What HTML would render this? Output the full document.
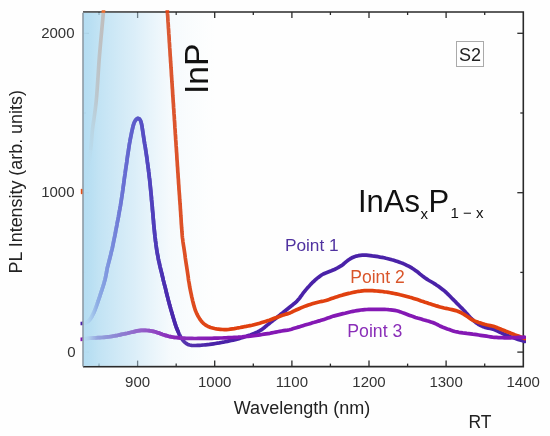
<!DOCTYPE html>
<html><head><meta charset="utf-8"><style>
html,body{margin:0;padding:0;background:#fff;}
body{width:550px;height:436px;overflow:hidden;}
svg{display:block;filter:blur(0.35px);}
text{font-family:"Liberation Sans",sans-serif;}
</style></head><body>
<svg width="550" height="436" viewBox="0 0 550 436">
<defs>
<clipPath id="pc"><rect x="80.5" y="10.3" width="445.5" height="356.3"/></clipPath>
<linearGradient id="ov" x1="83" y1="0" x2="215" y2="0" gradientUnits="userSpaceOnUse">
<stop offset="0" stop-color="#b2dcf2" stop-opacity="0.97"/>
<stop offset="0.06" stop-color="#b0dbf1" stop-opacity="0.88"/>
<stop offset="0.12" stop-color="#b0dbf1" stop-opacity="0.77"/>
<stop offset="0.39" stop-color="#b8def3" stop-opacity="0.5"/>
<stop offset="0.66" stop-color="#c0e2f5" stop-opacity="0.14"/>
<stop offset="1" stop-color="#c8e8f8" stop-opacity="0"/>
</linearGradient>
<linearGradient id="gf" x1="0" y1="12" x2="0" y2="200" gradientUnits="userSpaceOnUse">
<stop offset="0" stop-color="#e8692a" stop-opacity="1"/>
<stop offset="0.45" stop-color="#e8692a" stop-opacity="0.9"/>
<stop offset="0.8" stop-color="#e8692a" stop-opacity="0.15"/>
<stop offset="1" stop-color="#e8692a" stop-opacity="0"/>
</linearGradient>
<linearGradient id="fd" x1="83.8" y1="0" x2="97" y2="0" gradientUnits="userSpaceOnUse">
<stop offset="0" stop-color="#b5ddf2" stop-opacity="0.92"/>
<stop offset="0.3" stop-color="#b7def2" stop-opacity="0.72"/>
<stop offset="0.62" stop-color="#bbe0f3" stop-opacity="0.35"/>
<stop offset="1" stop-color="#c1e3f4" stop-opacity="0"/>
</linearGradient>
<linearGradient id="bg1" x1="84" y1="0" x2="180" y2="0" gradientUnits="userSpaceOnUse">
<stop offset="0" stop-color="rgb(165,200,236)"/>
<stop offset="0.115" stop-color="rgb(145,178,230)"/>
<stop offset="0.27" stop-color="rgb(122,144,222)"/>
<stop offset="0.42" stop-color="rgb(103,110,211)"/>
<stop offset="0.56" stop-color="rgb(88,86,200)"/>
<stop offset="0.69" stop-color="rgb(80,66,190)"/>
<stop offset="0.84" stop-color="rgb(74,46,176)"/>
<stop offset="1" stop-color="#4a22a8"/>
</linearGradient>
<linearGradient id="pg1" x1="84" y1="0" x2="182" y2="0" gradientUnits="userSpaceOnUse">
<stop offset="0" stop-color="rgb(160,185,230)"/>
<stop offset="0.16" stop-color="rgb(146,160,220)"/>
<stop offset="0.37" stop-color="rgb(140,128,210)"/>
<stop offset="0.57" stop-color="rgb(148,98,202)"/>
<stop offset="0.78" stop-color="rgb(142,60,192)"/>
<stop offset="1" stop-color="#8418b4"/>
</linearGradient>
<clipPath id="lc"><rect x="84" y="12.8" width="96" height="353"/></clipPath>
</defs>
<rect width="550" height="436" fill="#fefefe"/>
<g stroke="#555" stroke-width="1.1"><line x1="83.0" y1="352.1" x2="89.0" y2="352.1"/><line x1="83.0" y1="272.4" x2="86.0" y2="272.4"/><line x1="83.0" y1="192.7" x2="89.0" y2="192.7"/><line x1="83.0" y1="113.0" x2="86.0" y2="113.0"/><line x1="83.0" y1="33.3" x2="89.0" y2="33.3"/></g>
<g stroke="#2a2a2a" stroke-width="1.3"><line x1="99.0" y1="366.6" x2="99.0" y2="363.6"/><line x1="99.0" y1="12.0" x2="99.0" y2="15.0"/><line x1="137.6" y1="366.6" x2="137.6" y2="360.6"/><line x1="137.6" y1="12.0" x2="137.6" y2="18.0"/><line x1="176.2" y1="366.6" x2="176.2" y2="363.6"/><line x1="176.2" y1="12.0" x2="176.2" y2="15.0"/><line x1="214.7" y1="366.6" x2="214.7" y2="360.6"/><line x1="214.7" y1="12.0" x2="214.7" y2="18.0"/><line x1="253.3" y1="366.6" x2="253.3" y2="363.6"/><line x1="253.3" y1="12.0" x2="253.3" y2="15.0"/><line x1="291.9" y1="366.6" x2="291.9" y2="360.6"/><line x1="291.9" y1="12.0" x2="291.9" y2="18.0"/><line x1="330.4" y1="366.6" x2="330.4" y2="363.6"/><line x1="330.4" y1="12.0" x2="330.4" y2="15.0"/><line x1="369.0" y1="366.6" x2="369.0" y2="360.6"/><line x1="369.0" y1="12.0" x2="369.0" y2="18.0"/><line x1="407.6" y1="366.6" x2="407.6" y2="363.6"/><line x1="407.6" y1="12.0" x2="407.6" y2="15.0"/><line x1="446.1" y1="366.6" x2="446.1" y2="360.6"/><line x1="446.1" y1="12.0" x2="446.1" y2="18.0"/><line x1="484.7" y1="366.6" x2="484.7" y2="363.6"/><line x1="484.7" y1="12.0" x2="484.7" y2="15.0"/><line x1="523.3" y1="352.1" x2="517.3" y2="352.1"/><line x1="523.3" y1="272.4" x2="520.3" y2="272.4"/><line x1="523.3" y1="192.7" x2="517.3" y2="192.7"/><line x1="523.3" y1="113.0" x2="520.3" y2="113.0"/><line x1="523.3" y1="33.3" x2="517.3" y2="33.3"/></g>
<path d="M83,366.6 H523.3 V12 H83" fill="none" stroke="#2a2a2a" stroke-width="1.6"/>
<g clip-path="url(#pc)" fill="none" stroke-width="3.7" stroke-linejoin="round" stroke-linecap="round">
<path d="M104.0,0.0 C103.9,2.0 104.2,2.8 103.4,12.0 C102.7,21.2 100.7,40.3 99.5,55.0 C98.3,69.7 97.5,87.5 96.3,100.0 C95.1,112.5 93.4,121.7 92.4,130.0 C91.5,138.3 91.6,142.5 90.6,150.0 C89.6,157.5 88.1,167.5 86.5,175.0 C84.9,182.5 81.9,191.7 81.0,195.0" stroke="url(#gf)"/>
<path d="M80.7,323.5 L82.1,323.4 L84.0,323.2 L85.9,322.7 L87.6,321.7 L89.1,320.5 L90.3,318.9 L91.4,317.2 L92.4,315.5 L93.3,313.7 L94.1,311.9 L94.9,310.1 L95.6,308.2 L96.3,306.3 L97.0,304.4 L97.6,302.6 L98.3,300.7 L98.9,298.8 L99.6,296.9 L100.2,295.0 L100.8,293.1 L101.5,291.2 L102.1,289.3 L102.7,287.4 L103.3,285.5 L103.9,283.6 L104.4,281.6 L105.0,279.7 L105.4,277.8 L105.8,275.8 L106.2,273.8 L106.6,271.9 L106.9,269.9 L107.3,267.9 L107.8,266.0 L108.3,264.1 L108.8,262.1 L109.3,260.2 L109.8,258.2 L110.3,256.3 L110.8,254.4 L111.2,252.4 L111.7,250.5 L112.2,248.5 L112.6,246.6 L113.0,244.6 L113.4,242.7 L113.8,240.7 L114.2,238.7 L114.6,236.8 L115.0,234.8 L115.4,232.9 L115.7,230.9 L116.1,228.9 L116.5,227.0 L116.9,225.0 L117.2,223.0 L117.6,221.1 L118.0,219.1 L118.4,217.1 L118.7,215.2 L119.1,213.2 L119.4,211.2 L119.8,209.3 L120.1,207.3 L120.5,205.3 L120.8,203.4 L121.1,201.4 L121.4,199.4 L121.7,197.4 L122.0,195.5 L122.3,193.5 L122.6,191.5 L122.9,189.5 L123.1,187.5 L123.4,185.6 L123.7,183.6 L124.0,181.6 L124.2,179.6 L124.5,177.6 L124.8,175.6 L125.1,173.7 L125.3,171.7 L125.6,169.7 L125.9,167.7 L126.2,165.7 L126.5,163.8 L126.8,161.8 L127.0,159.8 L127.3,157.8 L127.6,155.8 L127.9,153.9 L128.2,151.9 L128.5,149.9 L128.8,147.9 L129.1,146.0 L129.4,144.0 L129.8,142.0 L130.1,140.0 L130.5,138.1 L130.9,136.1 L131.3,134.2 L131.7,132.2 L132.1,130.2 L132.6,128.3 L133.0,126.4 L133.6,124.4 L134.2,122.5 L135.1,120.8 L136.2,119.3 L137.7,118.4 L139.2,118.8 L140.3,120.1 L141.0,121.9 L141.5,123.9 L141.9,125.8 L142.2,127.8 L142.5,129.8 L142.8,131.8 L143.1,133.7 L143.4,135.7 L143.7,137.7 L144.0,139.7 L144.3,141.6 L144.6,143.6 L145.0,145.6 L145.3,147.6 L145.6,149.5 L145.9,151.5 L146.2,153.5 L146.5,155.5 L146.8,157.4 L147.1,159.4 L147.3,161.4 L147.6,163.4 L147.9,165.4 L148.1,167.4 L148.4,169.3 L148.6,171.3 L148.9,173.3 L149.1,175.3 L149.3,177.3 L149.6,179.3 L149.8,181.3 L150.0,183.2 L150.2,185.2 L150.4,187.2 L150.6,189.2 L150.8,191.2 L151.0,193.2 L151.2,195.2 L151.4,197.2 L151.5,199.2 L151.7,201.2 L151.9,203.2 L152.1,205.1 L152.3,207.1 L152.4,209.1 L152.6,211.1 L152.8,213.1 L153.0,215.1 L153.1,217.1 L153.3,219.1 L153.5,221.1 L153.6,223.1 L153.8,225.1 L154.0,227.1 L154.2,229.1 L154.4,231.0 L154.6,233.0 L154.8,235.0 L155.0,237.0 L155.3,239.0 L155.5,241.0 L155.8,243.0 L156.0,244.9 L156.3,246.9 L156.6,248.9 L156.9,250.9 L157.2,252.9 L157.6,254.8 L158.0,256.8 L158.3,258.8 L158.7,260.7 L159.2,262.7 L159.6,264.6 L160.0,266.6 L160.5,268.5 L161.0,270.5 L161.5,272.4 L161.9,274.3 L162.4,276.3 L162.9,278.2 L163.3,280.2 L163.8,282.1 L164.3,284.1 L164.8,286.0 L165.3,287.9 L165.8,289.9 L166.2,291.8 L166.7,293.8 L167.2,295.7 L167.7,297.6 L168.2,299.6 L168.7,301.5 L169.2,303.4 L169.7,305.4 L170.3,307.3 L170.8,309.2 L171.4,311.1 L171.9,313.1 L172.5,315.0 L173.0,316.9 L173.6,318.8 L174.2,320.7 L174.8,322.7 L175.4,324.6 L176.0,326.4 L176.7,328.3 L177.5,330.2 L178.3,332.0 L179.1,333.8 L180.0,335.6 L180.9,337.4 L182.0,339.1 L183.2,340.7 L184.5,342.1 L186.1,343.4 L187.8,344.4 L189.6,345.0 L191.6,345.3 L193.6,345.5 L195.6,345.5 L197.6,345.4 L199.6,345.3 L201.6,345.2 L203.5,345.0 L205.5,344.8 L207.5,344.6 L209.5,344.4 L211.5,344.1 L213.5,343.8 L215.5,343.5 L217.4,343.2 L219.4,342.9 L221.4,342.5 L223.3,342.2 L225.3,341.8 L227.3,341.4 L229.2,340.9 L231.2,340.5 L233.1,340.1 L235.1,339.7 L237.0,339.2 L238.9,338.7 L240.8,338.1 L242.8,337.5 L244.7,336.8 L246.5,336.2 L248.4,335.5 L250.3,334.9 L252.2,334.2 L254.1,333.5 L255.9,332.7 L257.7,331.9 L259.5,330.9 L261.2,329.9 L262.8,328.7 L264.4,327.5 L265.9,326.2 L267.5,324.9 L269.0,323.7 L270.6,322.4 L272.1,321.2 L273.7,319.9 L275.3,318.7 L276.8,317.5 L278.4,316.2 L280.0,315.0 L281.5,313.7 L283.1,312.5 L284.7,311.2 L286.2,310.0 L287.8,308.7 L289.3,307.5 L290.9,306.2 L292.5,305.0 L294.0,303.7 L295.6,302.5 L297.0,301.1 L298.4,299.6 L299.6,298.1 L300.8,296.4 L302.0,294.8 L303.1,293.2 L304.4,291.6 L305.6,290.1 L306.9,288.6 L308.3,287.1 L309.6,285.6 L310.9,284.1 L312.3,282.7 L313.8,281.3 L315.3,279.9 L316.8,278.6 L318.3,277.4 L319.9,276.2 L321.6,275.0 L323.3,274.0 L325.1,273.2 L327.0,272.5 L328.8,271.8 L330.7,271.1 L332.5,270.3 L334.4,269.5 L336.2,268.6 L338.0,267.7 L339.7,266.7 L341.4,265.7 L343.0,264.5 L344.5,263.2 L346.0,261.9 L347.6,260.6 L349.2,259.5 L350.9,258.4 L352.6,257.5 L354.5,256.7 L356.4,256.1 L358.3,255.7 L360.3,255.4 L362.3,255.2 L364.3,255.1 L366.3,255.2 L368.3,255.4 L370.3,255.6 L372.3,255.9 L374.2,256.1 L376.2,256.4 L378.2,256.7 L380.2,257.1 L382.1,257.4 L384.1,257.8 L386.0,258.3 L388.0,258.7 L389.9,259.2 L391.9,259.8 L393.8,260.3 L395.7,260.9 L397.6,261.5 L399.5,262.2 L401.3,262.9 L403.2,263.6 L405.0,264.4 L406.8,265.3 L408.6,266.2 L410.4,267.2 L412.1,268.2 L413.8,269.3 L415.4,270.4 L417.0,271.6 L418.6,272.8 L420.1,274.1 L421.7,275.4 L423.2,276.6 L424.8,277.8 L426.5,278.9 L428.2,280.0 L429.9,281.0 L431.7,282.0 L433.4,283.0 L435.1,284.1 L436.7,285.2 L438.4,286.3 L440.0,287.5 L441.6,288.7 L443.2,289.9 L444.7,291.2 L446.2,292.5 L447.6,293.9 L449.0,295.3 L450.5,296.8 L451.9,298.2 L453.3,299.6 L454.7,301.0 L456.1,302.4 L457.5,303.9 L458.9,305.3 L460.3,306.7 L461.7,308.1 L463.1,309.6 L464.5,311.0 L465.8,312.5 L467.2,314.0 L468.5,315.5 L469.8,316.9 L471.2,318.4 L472.7,319.8 L474.1,321.1 L475.7,322.4 L477.3,323.6 L478.9,324.7 L480.7,325.6 L482.5,326.4 L484.4,327.1 L486.3,327.6 L488.3,328.1 L490.2,328.5 L492.2,328.9 L494.1,329.5 L495.9,330.3 L497.7,331.2 L499.5,332.1 L501.3,332.9 L503.1,333.7 L505.0,334.5 L506.9,335.2 L508.7,335.9 L510.6,336.7 L512.4,337.4 L514.3,338.1 L516.2,338.8 L518.1,339.4 L520.0,340.0 L521.9,340.6 L523.6,341.1 L524.6,341.4 L524.6,341.4" stroke="#4a22a8"/>
<path d="M166.6,0.7 L166.7,2.1 L166.9,4.0 L167.0,6.0 L167.1,7.9 L167.3,9.9 L167.4,11.9 L167.5,13.9 L167.7,15.9 L167.8,17.9 L167.9,19.9 L168.0,21.9 L168.2,23.9 L168.3,25.9 L168.4,27.9 L168.6,29.9 L168.7,31.9 L168.8,33.9 L169.0,35.9 L169.1,37.9 L169.2,39.9 L169.3,41.9 L169.5,43.9 L169.6,45.9 L169.7,47.9 L169.9,49.9 L170.0,51.9 L170.1,53.9 L170.2,55.8 L170.4,57.8 L170.5,59.8 L170.6,61.8 L170.8,63.8 L170.9,65.8 L171.0,67.8 L171.2,69.8 L171.3,71.8 L171.4,73.8 L171.5,75.8 L171.7,77.8 L171.8,79.8 L171.9,81.8 L172.1,83.8 L172.2,85.8 L172.3,87.8 L172.5,89.8 L172.6,91.8 L172.7,93.8 L172.8,95.8 L173.0,97.8 L173.1,99.8 L173.2,101.8 L173.4,103.7 L173.5,105.7 L173.6,107.7 L173.8,109.7 L173.9,111.7 L174.0,113.7 L174.2,115.7 L174.3,117.7 L174.4,119.7 L174.6,121.7 L174.7,123.7 L174.8,125.7 L174.9,127.7 L175.1,129.7 L175.2,131.7 L175.3,133.7 L175.5,135.7 L175.6,137.7 L175.7,139.7 L175.9,141.7 L176.0,143.7 L176.1,145.7 L176.3,147.7 L176.4,149.6 L176.5,151.6 L176.7,153.6 L176.8,155.6 L176.9,157.6 L177.0,159.6 L177.2,161.6 L177.3,163.6 L177.4,165.6 L177.6,167.6 L177.7,169.6 L177.8,171.6 L178.0,173.6 L178.1,175.6 L178.2,177.6 L178.4,179.6 L178.5,181.6 L178.6,183.6 L178.8,185.6 L178.9,187.6 L179.0,189.6 L179.2,191.6 L179.3,193.5 L179.5,195.5 L179.6,197.5 L179.7,199.5 L179.9,201.5 L180.0,203.5 L180.2,205.5 L180.3,207.5 L180.4,209.5 L180.6,211.5 L180.7,213.5 L180.8,215.5 L181.0,217.5 L181.1,219.5 L181.2,221.5 L181.3,223.5 L181.5,225.5 L181.6,227.5 L181.8,229.5 L181.9,231.5 L182.1,233.5 L182.2,235.4 L182.4,237.4 L182.7,239.4 L182.9,241.4 L183.2,243.4 L183.5,245.4 L183.8,247.3 L184.1,249.3 L184.4,251.3 L184.7,253.3 L185.0,255.3 L185.2,257.2 L185.5,259.2 L185.8,261.2 L186.1,263.2 L186.4,265.1 L186.7,267.1 L187.0,269.1 L187.3,271.1 L187.6,273.1 L187.9,275.0 L188.2,277.0 L188.4,279.0 L188.7,281.0 L189.1,283.0 L189.4,284.9 L189.7,286.9 L190.1,288.9 L190.5,290.8 L190.9,292.8 L191.3,294.7 L191.7,296.7 L192.2,298.6 L192.6,300.6 L193.1,302.5 L193.6,304.5 L194.1,306.4 L194.7,308.3 L195.3,310.2 L196.1,312.1 L196.9,313.9 L197.8,315.7 L198.8,317.4 L199.8,319.1 L201.0,320.7 L202.3,322.2 L203.7,323.6 L205.3,324.9 L207.0,325.9 L208.8,326.8 L210.6,327.5 L212.5,328.0 L214.5,328.5 L216.4,328.9 L218.4,329.1 L220.4,329.3 L222.4,329.5 L224.4,329.6 L226.4,329.6 L228.4,329.5 L230.4,329.2 L232.4,328.9 L234.3,328.6 L236.3,328.2 L238.3,327.8 L240.2,327.5 L242.2,327.1 L244.2,326.7 L246.1,326.4 L248.1,326.0 L250.0,325.6 L252.0,325.2 L254.0,324.7 L255.9,324.2 L257.8,323.7 L259.7,323.2 L261.7,322.6 L263.6,322.0 L265.5,321.4 L267.4,320.8 L269.3,320.2 L271.2,319.5 L273.0,318.8 L274.9,318.1 L276.8,317.4 L278.7,316.7 L280.5,316.0 L282.4,315.3 L284.3,314.7 L286.2,314.1 L288.1,313.6 L290.0,312.9 L291.8,312.1 L293.6,311.2 L295.4,310.3 L297.3,309.5 L299.1,308.7 L300.9,307.9 L302.8,307.1 L304.6,306.4 L306.5,305.7 L308.4,305.0 L310.3,304.4 L312.2,303.8 L314.1,303.2 L316.0,302.7 L318.0,302.2 L319.9,301.8 L321.9,301.4 L323.8,301.0 L325.8,300.5 L327.7,299.9 L329.6,299.3 L331.5,298.6 L333.4,297.9 L335.3,297.3 L337.2,296.7 L339.1,296.1 L341.0,295.5 L342.9,294.9 L344.8,294.4 L346.8,293.9 L348.7,293.4 L350.6,293.0 L352.6,292.5 L354.5,292.1 L356.5,291.7 L358.5,291.3 L360.5,291.1 L362.4,290.8 L364.4,290.7 L366.4,290.6 L368.4,290.5 L370.4,290.6 L372.4,290.7 L374.4,290.8 L376.4,291.0 L378.4,291.1 L380.4,291.3 L382.4,291.5 L384.4,291.8 L386.4,292.0 L388.3,292.3 L390.3,292.7 L392.3,293.1 L394.2,293.5 L396.2,293.9 L398.1,294.3 L400.1,294.8 L402.0,295.2 L404.0,295.7 L405.9,296.2 L407.8,296.7 L409.8,297.3 L411.7,297.8 L413.6,298.4 L415.5,299.0 L417.4,299.6 L419.3,300.2 L421.2,300.9 L423.1,301.5 L425.0,302.2 L426.9,302.8 L428.8,303.5 L430.7,304.1 L432.6,304.7 L434.5,305.3 L436.4,305.9 L438.3,306.4 L440.2,307.0 L442.2,307.5 L444.1,308.0 L446.1,308.4 L448.0,308.8 L450.0,309.2 L451.9,309.6 L453.9,310.1 L455.8,310.6 L457.7,311.2 L459.6,312.0 L461.4,312.9 L463.1,313.8 L464.8,314.9 L466.5,316.0 L468.1,317.1 L469.7,318.3 L471.4,319.4 L473.2,320.3 L475.0,321.1 L476.8,321.8 L478.7,322.5 L480.6,323.1 L482.5,323.7 L484.5,324.3 L486.4,324.8 L488.4,325.2 L490.3,325.6 L492.3,326.0 L494.2,326.6 L496.1,327.2 L497.9,328.0 L499.8,328.7 L501.6,329.5 L503.5,330.2 L505.3,331.0 L507.2,331.7 L509.1,332.4 L510.9,333.2 L512.8,333.9 L514.6,334.7 L516.5,335.4 L518.4,336.1 L520.2,336.8 L522.1,337.5 L523.7,338.1 L524.7,338.5 L524.7,338.5" stroke="#e0400f"/>
<path d="M80.8,339.3 L82.1,339.2 L84.0,338.9 L85.9,338.6 L87.9,338.4 L89.9,338.2 L91.9,338.1 L93.9,337.9 L95.9,337.8 L97.9,337.7 L99.9,337.6 L101.9,337.5 L103.9,337.3 L105.9,337.1 L107.9,336.9 L109.8,336.7 L111.8,336.4 L113.8,336.0 L115.8,335.6 L117.7,335.3 L119.7,334.9 L121.6,334.4 L123.6,334.0 L125.5,333.6 L127.5,333.2 L129.4,332.7 L131.4,332.3 L133.3,331.9 L135.3,331.4 L137.2,330.9 L139.2,330.6 L141.2,330.3 L143.2,330.3 L145.2,330.3 L147.2,330.5 L149.1,330.7 L151.1,331.0 L153.1,331.4 L155.0,331.8 L156.9,332.4 L158.8,333.1 L160.7,333.8 L162.6,334.5 L164.5,335.1 L166.4,335.6 L168.3,336.2 L170.3,336.6 L172.2,337.0 L174.2,337.3 L176.2,337.5 L178.2,337.7 L180.2,337.9 L182.2,338.1 L184.2,338.2 L186.1,338.3 L188.1,338.4 L190.1,338.4 L192.1,338.4 L194.1,338.5 L196.1,338.5 L198.1,338.4 L200.1,338.4 L202.1,338.4 L204.1,338.4 L206.1,338.4 L208.1,338.3 L210.1,338.3 L212.1,338.3 L214.1,338.2 L216.1,338.2 L218.1,338.1 L220.1,338.0 L222.1,338.0 L224.1,337.9 L226.1,337.8 L228.1,337.7 L230.1,337.6 L232.1,337.5 L234.1,337.4 L236.1,337.3 L238.1,337.2 L240.1,337.0 L242.1,336.9 L244.1,336.7 L246.1,336.5 L248.1,336.3 L250.1,336.1 L252.1,335.8 L254.0,335.6 L256.0,335.4 L258.0,335.1 L260.0,334.8 L262.0,334.5 L263.9,334.2 L265.9,333.9 L267.9,333.6 L269.9,333.3 L271.8,332.9 L273.8,332.5 L275.7,332.1 L277.7,331.7 L279.7,331.3 L281.6,331.0 L283.6,330.7 L285.6,330.4 L287.6,330.1 L289.5,329.7 L291.5,329.2 L293.4,328.6 L295.3,328.0 L297.2,327.4 L299.1,326.9 L301.0,326.3 L302.9,325.7 L304.9,325.1 L306.8,324.5 L308.7,324.0 L310.6,323.4 L312.5,322.8 L314.4,322.3 L316.4,321.7 L318.3,321.1 L320.2,320.6 L322.1,320.0 L324.0,319.4 L325.9,318.8 L327.8,318.1 L329.7,317.4 L331.5,316.7 L333.5,316.1 L335.4,315.6 L337.3,315.1 L339.3,314.6 L341.2,314.1 L343.1,313.6 L345.1,313.2 L347.0,312.7 L349.0,312.2 L350.9,311.8 L352.9,311.4 L354.8,311.0 L356.8,310.6 L358.8,310.3 L360.8,310.0 L362.8,309.8 L364.7,309.6 L366.7,309.5 L368.7,309.4 L370.7,309.3 L372.7,309.3 L374.7,309.3 L376.7,309.3 L378.7,309.3 L380.7,309.3 L382.7,309.4 L384.7,309.4 L386.7,309.5 L388.7,309.7 L390.7,309.8 L392.7,310.1 L394.7,310.4 L396.6,310.8 L398.6,311.3 L400.5,311.9 L402.3,312.6 L404.2,313.3 L406.1,314.0 L407.9,314.7 L409.8,315.4 L411.7,316.1 L413.6,316.7 L415.5,317.4 L417.4,318.0 L419.3,318.5 L421.2,319.1 L423.2,319.7 L425.1,320.2 L427.0,320.8 L428.9,321.3 L430.8,321.9 L432.7,322.5 L434.6,323.3 L436.4,324.1 L438.2,325.0 L439.9,326.0 L441.7,326.8 L443.6,327.6 L445.5,328.3 L447.3,329.0 L449.2,329.6 L451.1,330.3 L453.0,330.9 L454.9,331.5 L456.9,331.9 L458.8,332.3 L460.8,332.6 L462.8,332.9 L464.8,333.1 L466.8,333.4 L468.7,333.6 L470.7,333.9 L472.7,334.2 L474.7,334.4 L476.7,334.7 L478.7,335.0 L480.6,335.3 L482.6,335.6 L484.6,335.9 L486.6,336.2 L488.5,336.5 L490.5,336.8 L492.5,337.1 L494.5,337.3 L496.5,337.4 L498.5,337.6 L500.5,337.7 L502.5,337.7 L504.5,337.8 L506.5,337.9 L508.5,337.9 L510.5,337.8 L512.5,337.7 L514.4,337.6 L516.4,337.5 L518.4,337.4 L520.4,337.3 L522.3,337.3 L523.9,337.2 L524.4,337.2" stroke="#8418b4"/>
</g>
<rect x="83" y="12.8" width="133" height="353.0" fill="url(#ov)"/>
<g clip-path="url(#lc)" fill="none" stroke-width="3.7" stroke-linejoin="round" stroke-linecap="round">
<path d="M80.7,323.5 L82.1,323.4 L84.0,323.2 L85.9,322.7 L87.6,321.7 L89.1,320.5 L90.3,318.9 L91.4,317.2 L92.4,315.5 L93.3,313.7 L94.1,311.9 L94.9,310.1 L95.6,308.2 L96.3,306.3 L97.0,304.4 L97.6,302.6 L98.3,300.7 L98.9,298.8 L99.6,296.9 L100.2,295.0 L100.8,293.1 L101.5,291.2 L102.1,289.3 L102.7,287.4 L103.3,285.5 L103.9,283.6 L104.4,281.6 L105.0,279.7 L105.4,277.8 L105.8,275.8 L106.2,273.8 L106.6,271.9 L106.9,269.9 L107.3,267.9 L107.8,266.0 L108.3,264.1 L108.8,262.1 L109.3,260.2 L109.8,258.2 L110.3,256.3 L110.8,254.4 L111.2,252.4 L111.7,250.5 L112.2,248.5 L112.6,246.6 L113.0,244.6 L113.4,242.7 L113.8,240.7 L114.2,238.7 L114.6,236.8 L115.0,234.8 L115.4,232.9 L115.7,230.9 L116.1,228.9 L116.5,227.0 L116.9,225.0 L117.2,223.0 L117.6,221.1 L118.0,219.1 L118.4,217.1 L118.7,215.2 L119.1,213.2 L119.4,211.2 L119.8,209.3 L120.1,207.3 L120.5,205.3 L120.8,203.4 L121.1,201.4 L121.4,199.4 L121.7,197.4 L122.0,195.5 L122.3,193.5 L122.6,191.5 L122.9,189.5 L123.1,187.5 L123.4,185.6 L123.7,183.6 L124.0,181.6 L124.2,179.6 L124.5,177.6 L124.8,175.6 L125.1,173.7 L125.3,171.7 L125.6,169.7 L125.9,167.7 L126.2,165.7 L126.5,163.8 L126.8,161.8 L127.0,159.8 L127.3,157.8 L127.6,155.8 L127.9,153.9 L128.2,151.9 L128.5,149.9 L128.8,147.9 L129.1,146.0 L129.4,144.0 L129.8,142.0 L130.1,140.0 L130.5,138.1 L130.9,136.1 L131.3,134.2 L131.7,132.2 L132.1,130.2 L132.6,128.3 L133.0,126.4 L133.6,124.4 L134.2,122.5 L135.1,120.8 L136.2,119.3 L137.7,118.4 L139.2,118.8 L140.3,120.1 L141.0,121.9 L141.5,123.9 L141.9,125.8 L142.2,127.8 L142.5,129.8 L142.8,131.8 L143.1,133.7 L143.4,135.7 L143.7,137.7 L144.0,139.7 L144.3,141.6 L144.6,143.6 L145.0,145.6 L145.3,147.6 L145.6,149.5 L145.9,151.5 L146.2,153.5 L146.5,155.5 L146.8,157.4 L147.1,159.4 L147.3,161.4 L147.6,163.4 L147.9,165.4 L148.1,167.4 L148.4,169.3 L148.6,171.3 L148.9,173.3 L149.1,175.3 L149.3,177.3 L149.6,179.3 L149.8,181.3 L150.0,183.2 L150.2,185.2 L150.4,187.2 L150.6,189.2 L150.8,191.2 L151.0,193.2 L151.2,195.2 L151.4,197.2 L151.5,199.2 L151.7,201.2 L151.9,203.2 L152.1,205.1 L152.3,207.1 L152.4,209.1 L152.6,211.1 L152.8,213.1 L153.0,215.1 L153.1,217.1 L153.3,219.1 L153.5,221.1 L153.6,223.1 L153.8,225.1 L154.0,227.1 L154.2,229.1 L154.4,231.0 L154.6,233.0 L154.8,235.0 L155.0,237.0 L155.3,239.0 L155.5,241.0 L155.8,243.0 L156.0,244.9 L156.3,246.9 L156.6,248.9 L156.9,250.9 L157.2,252.9 L157.6,254.8 L158.0,256.8 L158.3,258.8 L158.7,260.7 L159.2,262.7 L159.6,264.6 L160.0,266.6 L160.5,268.5 L161.0,270.5 L161.5,272.4 L161.9,274.3 L162.4,276.3 L162.9,278.2 L163.3,280.2 L163.8,282.1 L164.3,284.1 L164.8,286.0 L165.3,287.9 L165.8,289.9 L166.2,291.8 L166.7,293.8 L167.2,295.7 L167.7,297.6 L168.2,299.6 L168.7,301.5 L169.2,303.4 L169.7,305.4 L170.3,307.3 L170.8,309.2 L171.4,311.1 L171.9,313.1 L172.5,315.0 L173.0,316.9 L173.6,318.8 L174.2,320.7 L174.8,322.7 L175.4,324.6 L176.0,326.4 L176.7,328.3 L177.5,330.2 L178.3,332.0 L179.1,333.8 L180.0,335.6 L180.9,337.4 L182.0,339.1 L183.2,340.7 L184.5,342.1 L186.1,343.4 L187.8,344.4 L189.6,345.0 L191.6,345.3 L193.6,345.5 L195.6,345.5 L197.6,345.4 L199.6,345.3 L201.6,345.2 L203.5,345.0 L205.5,344.8 L207.5,344.6 L209.5,344.4 L211.5,344.1 L213.5,343.8 L215.5,343.5 L217.4,343.2 L219.4,342.9 L221.4,342.5 L223.3,342.2 L225.3,341.8 L227.3,341.4 L229.2,340.9 L231.2,340.5 L233.1,340.1 L235.1,339.7 L237.0,339.2 L238.9,338.7 L240.8,338.1 L242.8,337.5 L244.7,336.8 L246.5,336.2 L248.4,335.5 L250.3,334.9 L252.2,334.2 L254.1,333.5 L255.9,332.7 L257.7,331.9 L259.5,330.9 L261.2,329.9 L262.8,328.7 L264.4,327.5 L265.9,326.2 L267.5,324.9 L269.0,323.7 L270.6,322.4 L272.1,321.2 L273.7,319.9 L275.3,318.7 L276.8,317.5 L278.4,316.2 L280.0,315.0 L281.5,313.7 L283.1,312.5 L284.7,311.2 L286.2,310.0 L287.8,308.7 L289.3,307.5 L290.9,306.2 L292.5,305.0 L294.0,303.7 L295.6,302.5 L297.0,301.1 L298.4,299.6 L299.6,298.1 L300.8,296.4 L302.0,294.8 L303.1,293.2 L304.4,291.6 L305.6,290.1 L306.9,288.6 L308.3,287.1 L309.6,285.6 L310.9,284.1 L312.3,282.7 L313.8,281.3 L315.3,279.9 L316.8,278.6 L318.3,277.4 L319.9,276.2 L321.6,275.0 L323.3,274.0 L325.1,273.2 L327.0,272.5 L328.8,271.8 L330.7,271.1 L332.5,270.3 L334.4,269.5 L336.2,268.6 L338.0,267.7 L339.7,266.7 L341.4,265.7 L343.0,264.5 L344.5,263.2 L346.0,261.9 L347.6,260.6 L349.2,259.5 L350.9,258.4 L352.6,257.5 L354.5,256.7 L356.4,256.1 L358.3,255.7 L360.3,255.4 L362.3,255.2 L364.3,255.1 L366.3,255.2 L368.3,255.4 L370.3,255.6 L372.3,255.9 L374.2,256.1 L376.2,256.4 L378.2,256.7 L380.2,257.1 L382.1,257.4 L384.1,257.8 L386.0,258.3 L388.0,258.7 L389.9,259.2 L391.9,259.8 L393.8,260.3 L395.7,260.9 L397.6,261.5 L399.5,262.2 L401.3,262.9 L403.2,263.6 L405.0,264.4 L406.8,265.3 L408.6,266.2 L410.4,267.2 L412.1,268.2 L413.8,269.3 L415.4,270.4 L417.0,271.6 L418.6,272.8 L420.1,274.1 L421.7,275.4 L423.2,276.6 L424.8,277.8 L426.5,278.9 L428.2,280.0 L429.9,281.0 L431.7,282.0 L433.4,283.0 L435.1,284.1 L436.7,285.2 L438.4,286.3 L440.0,287.5 L441.6,288.7 L443.2,289.9 L444.7,291.2 L446.2,292.5 L447.6,293.9 L449.0,295.3 L450.5,296.8 L451.9,298.2 L453.3,299.6 L454.7,301.0 L456.1,302.4 L457.5,303.9 L458.9,305.3 L460.3,306.7 L461.7,308.1 L463.1,309.6 L464.5,311.0 L465.8,312.5 L467.2,314.0 L468.5,315.5 L469.8,316.9 L471.2,318.4 L472.7,319.8 L474.1,321.1 L475.7,322.4 L477.3,323.6 L478.9,324.7 L480.7,325.6 L482.5,326.4 L484.4,327.1 L486.3,327.6 L488.3,328.1 L490.2,328.5 L492.2,328.9 L494.1,329.5 L495.9,330.3 L497.7,331.2 L499.5,332.1 L501.3,332.9 L503.1,333.7 L505.0,334.5 L506.9,335.2 L508.7,335.9 L510.6,336.7 L512.4,337.4 L514.3,338.1 L516.2,338.8 L518.1,339.4 L520.0,340.0 L521.9,340.6 L523.6,341.1 L524.6,341.4 L524.6,341.4" stroke="url(#bg1)"/>
<path d="M80.8,339.3 L82.1,339.2 L84.0,338.9 L85.9,338.6 L87.9,338.4 L89.9,338.2 L91.9,338.1 L93.9,337.9 L95.9,337.8 L97.9,337.7 L99.9,337.6 L101.9,337.5 L103.9,337.3 L105.9,337.1 L107.9,336.9 L109.8,336.7 L111.8,336.4 L113.8,336.0 L115.8,335.6 L117.7,335.3 L119.7,334.9 L121.6,334.4 L123.6,334.0 L125.5,333.6 L127.5,333.2 L129.4,332.7 L131.4,332.3 L133.3,331.9 L135.3,331.4 L137.2,330.9 L139.2,330.6 L141.2,330.3 L143.2,330.3 L145.2,330.3 L147.2,330.5 L149.1,330.7 L151.1,331.0 L153.1,331.4 L155.0,331.8 L156.9,332.4 L158.8,333.1 L160.7,333.8 L162.6,334.5 L164.5,335.1 L166.4,335.6 L168.3,336.2 L170.3,336.6 L172.2,337.0 L174.2,337.3 L176.2,337.5 L178.2,337.7 L180.2,337.9 L182.2,338.1 L184.2,338.2 L186.1,338.3 L188.1,338.4 L190.1,338.4 L192.1,338.4 L194.1,338.5 L196.1,338.5 L198.1,338.4 L200.1,338.4 L202.1,338.4 L204.1,338.4 L206.1,338.4 L208.1,338.3 L210.1,338.3 L212.1,338.3 L214.1,338.2 L216.1,338.2 L218.1,338.1 L220.1,338.0 L222.1,338.0 L224.1,337.9 L226.1,337.8 L228.1,337.7 L230.1,337.6 L232.1,337.5 L234.1,337.4 L236.1,337.3 L238.1,337.2 L240.1,337.0 L242.1,336.9 L244.1,336.7 L246.1,336.5 L248.1,336.3 L250.1,336.1 L252.1,335.8 L254.0,335.6 L256.0,335.4 L258.0,335.1 L260.0,334.8 L262.0,334.5 L263.9,334.2 L265.9,333.9 L267.9,333.6 L269.9,333.3 L271.8,332.9 L273.8,332.5 L275.7,332.1 L277.7,331.7 L279.7,331.3 L281.6,331.0 L283.6,330.7 L285.6,330.4 L287.6,330.1 L289.5,329.7 L291.5,329.2 L293.4,328.6 L295.3,328.0 L297.2,327.4 L299.1,326.9 L301.0,326.3 L302.9,325.7 L304.9,325.1 L306.8,324.5 L308.7,324.0 L310.6,323.4 L312.5,322.8 L314.4,322.3 L316.4,321.7 L318.3,321.1 L320.2,320.6 L322.1,320.0 L324.0,319.4 L325.9,318.8 L327.8,318.1 L329.7,317.4 L331.5,316.7 L333.5,316.1 L335.4,315.6 L337.3,315.1 L339.3,314.6 L341.2,314.1 L343.1,313.6 L345.1,313.2 L347.0,312.7 L349.0,312.2 L350.9,311.8 L352.9,311.4 L354.8,311.0 L356.8,310.6 L358.8,310.3 L360.8,310.0 L362.8,309.8 L364.7,309.6 L366.7,309.5 L368.7,309.4 L370.7,309.3 L372.7,309.3 L374.7,309.3 L376.7,309.3 L378.7,309.3 L380.7,309.3 L382.7,309.4 L384.7,309.4 L386.7,309.5 L388.7,309.7 L390.7,309.8 L392.7,310.1 L394.7,310.4 L396.6,310.8 L398.6,311.3 L400.5,311.9 L402.3,312.6 L404.2,313.3 L406.1,314.0 L407.9,314.7 L409.8,315.4 L411.7,316.1 L413.6,316.7 L415.5,317.4 L417.4,318.0 L419.3,318.5 L421.2,319.1 L423.2,319.7 L425.1,320.2 L427.0,320.8 L428.9,321.3 L430.8,321.9 L432.7,322.5 L434.6,323.3 L436.4,324.1 L438.2,325.0 L439.9,326.0 L441.7,326.8 L443.6,327.6 L445.5,328.3 L447.3,329.0 L449.2,329.6 L451.1,330.3 L453.0,330.9 L454.9,331.5 L456.9,331.9 L458.8,332.3 L460.8,332.6 L462.8,332.9 L464.8,333.1 L466.8,333.4 L468.7,333.6 L470.7,333.9 L472.7,334.2 L474.7,334.4 L476.7,334.7 L478.7,335.0 L480.6,335.3 L482.6,335.6 L484.6,335.9 L486.6,336.2 L488.5,336.5 L490.5,336.8 L492.5,337.1 L494.5,337.3 L496.5,337.4 L498.5,337.6 L500.5,337.7 L502.5,337.7 L504.5,337.8 L506.5,337.9 L508.5,337.9 L510.5,337.8 L512.5,337.7 L514.4,337.6 L516.4,337.5 L518.4,337.4 L520.4,337.3 L522.3,337.3 L523.9,337.2 L524.4,337.2" stroke="url(#pg1)"/>
</g>
<rect x="83.8" y="150" width="13.2" height="215.8" fill="url(#fd)"/>
<line x1="83" y1="12.8" x2="83" y2="366.6" stroke="#8e9ba5" stroke-width="1.6"/>
<path d="M81.6,189.5 L81.6,193.5" stroke="#e0501a" stroke-width="1.6" stroke-linecap="round"/>
<g font-size="15" fill="#333">
<text x="137.6" y="386.6" text-anchor="middle">900</text><text x="214.7" y="386.6" text-anchor="middle">1000</text><text x="291.9" y="386.6" text-anchor="middle">1100</text><text x="369.0" y="386.6" text-anchor="middle">1200</text><text x="446.1" y="386.6" text-anchor="middle">1300</text><text x="523.2" y="386.6" text-anchor="middle">1400</text>
<text x="74.5" y="38" text-anchor="end">2000</text>
<text x="74.5" y="196.7" text-anchor="end">1000</text>
<text x="75.6" y="356.6" text-anchor="end">0</text>
</g>
<text x="302" y="414" font-size="18" fill="#222" text-anchor="middle">Wavelength (nm)</text>
<text transform="translate(22,181.8) rotate(-90)" font-size="17.9" fill="#222" text-anchor="middle">PL Intensity (arb. units)</text>
<text x="480" y="428" font-size="17.5" fill="#222" text-anchor="middle">RT</text>
<rect x="456.5" y="41.5" width="27" height="25" fill="none" stroke="#aaa" stroke-width="1"/>
<text x="470" y="60.5" font-size="18" fill="#222" text-anchor="middle">S2</text>
<text transform="translate(207.5,94.1) rotate(-90)" font-size="33.8" fill="#111">InP</text>
<text x="358" y="212.3" font-size="31" fill="#111">InAs<tspan font-size="15" dy="6.5" dx="0.5">x</tspan><tspan dy="-6.5" dx="0.5">P</tspan><tspan font-size="15" dy="5.5" dx="1.4">1 − x</tspan></text>
<text x="284.9" y="250.6" font-size="17.3" fill="#5032a0">Point 1</text>
<text x="350.3" y="282.8" font-size="17.5" fill="#d9552a">Point 2</text>
<text x="347.3" y="336.8" font-size="17.7" fill="#8a2eb8">Point 3</text>
</svg>
</body></html>
